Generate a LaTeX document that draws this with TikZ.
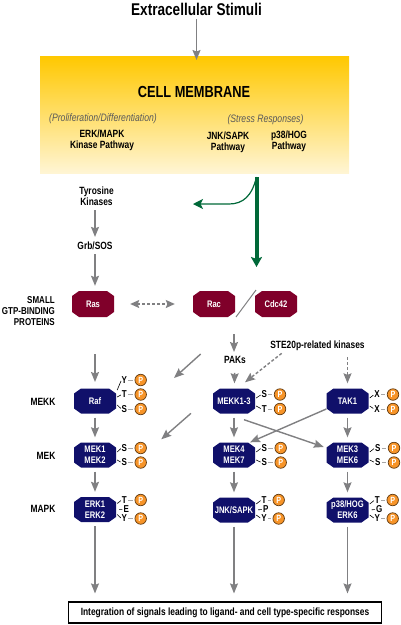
\documentclass[tikz,border=0pt]{standalone}
\usepackage{fontspec}
\setmainfont[FakeStretch=0.8]{Liberation Sans}
\usepackage[dvipsnames]{xcolor}
\usepackage{tikz}
\usetikzlibrary{arrows.meta, positioning}
\definecolor{gray1}{RGB}{128,128,130}
\definecolor{green1}{RGB}{0,104,56}
\definecolor{maroon1}{RGB}{128,0,42}
\definecolor{navy1}{RGB}{16,16,106}
\definecolor{orange1}{RGB}{247,148,40}
\definecolor{amber1}{RGB}{255,200,0}
\definecolor{amber2}{RGB}{255,245,212}
\def\BB{path picture bounding box}
% one phosphorylation site: name, box, shift at box, letter, x, y, x of P
\def\psite#1#2#3#4#5#6#7{
  \node[residue,name=#1] at(#5,#6) {#4};
  \node[phospho,name=#1p] at(#7,#6) {P};
  \draw[leader] ([xshift=1pt,yshift=#3pt]#2.east) -- (#1.west);
  \draw[tether] (#1) -- (#1p);
}
\begin{document}
\begin{tikzpicture}[x=1pt,y=-1pt,
    label1/.style={font=\fontsize{10.5}{11}\selectfont\bfseries, align=center, inner sep=0pt},
    greytext/.style={font=\fontsize{10.8}{11}\selectfont\itshape, text=black!65, inner sep=0pt},
    octbox/.style={rectangle, text=white, align=center, inner sep=0pt,
      path picture={\fill[#1] ([xshift=7pt]\BB.north west) -- ([xshift=-7pt]\BB.north east) -- ([yshift=-5pt]\BB.north east) -- ([yshift=5pt]\BB.south east) -- ([xshift=-7pt]\BB.south east) -- ([xshift=7pt]\BB.south west) -- ([yshift=5pt]\BB.south west) -- ([yshift=-5pt]\BB.north west) -- cycle;}},
    gtpase/.style={octbox=maroon1, font=\fontsize{9.5}{11}\selectfont\bfseries, minimum width=42pt, minimum height=26pt},
    kinase/.style={octbox=navy1, font=\fontsize{9.5}{11}\selectfont\bfseries, minimum width=42pt, minimum height=25pt},
    residue/.style={font=\fontsize{10}{10}\selectfont\bfseries, inner sep=0pt},
    phospho/.style={circle, draw=black!60!orange1, fill=orange1, line width=0.7pt, text=white, font=\fontsize{9}{9}\selectfont\bfseries, minimum size=11.5pt, inner sep=0pt},
    leader/.style={line width=0.6pt, color=black, shorten >=1pt},
    tether/.style={line width=0.7pt, color=gray1!70, shorten <=1pt, shorten >=2pt},
    sigarrow/.style={-{Stealth[length=10pt,width=8pt,inset=1.5pt]}, line width=1.4pt, color=gray1, shorten <=4pt, shorten >=5pt},
    dasharrow/.style={sigarrow, dash pattern=on 3pt off 2pt},
    greenarrow/.style={-{Stealth[length=10pt,width=11pt,inset=2pt]}, line width=4pt, color=green1},
    greenthin/.style={-{Stealth[length=10pt,width=10pt,inset=2.5pt]}, line width=1.2pt, color=green1}
]
        \useasboundingbox (0,0) rectangle (400,625);

        \node[rectangle, top color=amber1, bottom color=amber2, minimum width=309pt, minimum height=117pt, inner sep=0pt, name=membrane] at(194.5,114.5) { };
        \node[font=\fontsize{17}{18}\selectfont\bfseries, inner sep=0pt, name=stimuli] at(196.5,9) {Extracellular Stimuli};
        \node[font=\fontsize{16}{18}\selectfont\bfseries, inner sep=0pt, name=cell] at(194,92) {CELL MEMBRANE};

        \node[greytext, name=prolif] at(103,119) {(Proliferation/Differentiation)};
        \node[greytext, name=stress] at(265.5,120) {(Stress Responses)};
        \node[label1, name=erkpath] at(102,140) {ERK/MAPK\\Kinase Pathway};
        \node[label1, name=jnkpath] at(228,142.5) {JNK/SAPK\\Pathway};
        \node[label1, name=hogpath] at(289,141.5) {p38/HOG\\Pathway};

        \node[label1, name=tyrosine] at(96.5,196.5) {Tyrosine\\Kinases};
        \node[label1, name=grb] at(95,246) {Grb/SOS};
        \node[label1, font=\fontsize{10}{11}\selectfont\bfseries, align=right, anchor=east, name=small] at(55,311) {SMALL\\GTP-BINDING\\PROTEINS};
        \node[label1, name=mekklabel] at(43,402) {MEKK};
        \node[label1, name=meklabel] at(46,456) {MEK};
        \node[label1, name=mapklabel] at(43,509) {MAPK};
        \node[label1, name=paks] at(235,360) {PAKs};
        \node[label1, name=ste] at(317.5,346) {STE20p-related kinases};

        \node[gtpase, name=ras] at(93,304) {Ras};
        \node[gtpase, name=rac] at(214,304) {Rac};
        \node[gtpase, name=cdc] at(276,304) {Cdc42};

        \node[kinase, name=raf] at(95,401) {Raf};
        \node[kinase, name=mekk] at(234,401) {MEKK1-3};
        \node[kinase, name=tak] at(347.5,401) {TAK1};
        \node[kinase, name=mek1] at(95,455) {MEK1\\MEK2};
        \node[kinase, name=mek4] at(234,455) {MEK4\\MEK7};
        \node[kinase, name=mek3] at(347.5,455) {MEK3\\MEK6};
        \node[kinase, name=erk] at(95,509.5) {ERK1\\ERK2};
        \node[kinase, name=jnk] at(234,510) {JNK/SAPK};
        \node[kinase, name=hog] at(347.5,510) {p38/HOG\\ERK6};

        \node[draw=black, line width=1.2pt, minimum width=313pt, minimum height=21pt, inner sep=0pt, font=\fontsize{10.5}{12}\selectfont\bfseries, name=output] at(225,612.5) {Integration of signals leading to ligand- and cell type-specific responses};

        \psite{rafy}{raf}{11}{Y}{124.3}{380}{140.7}
        \psite{raft}{raf}{4}{T}{124.3}{394.5}{140.7}
        \psite{rafs}{raf}{-4}{S}{124.3}{409}{140.7}
        \psite{mekks}{mekk}{3}{S}{264.3}{394.5}{280}
        \psite{mekkt}{mekk}{-5}{T}{264.3}{409}{280}
        \psite{takx}{tak}{3}{X}{377}{394.5}{393}
        \psite{takz}{tak}{-5}{X}{377}{409}{393}
        \psite{meka}{mek1}{3}{S}{124.3}{448}{140.7}
        \psite{mekb}{mek1}{-5}{S}{124.3}{462.5}{140.7}
        \psite{mekc}{mek4}{3}{S}{264.3}{448}{280.7}
        \psite{mekd}{mek4}{-5}{S}{264.3}{462.5}{280.7}
        \psite{meke}{mek3}{3}{S}{377.7}{448}{394}
        \psite{mekf}{mek3}{-5}{S}{377.7}{462.5}{394}
        \psite{erkt}{erk}{6}{T}{124.3}{500}{140.7}
        \psite{erky}{erk}{-5}{Y}{124.3}{518.5}{140.7}
        \psite{jnkt}{jnk}{6}{T}{264}{500}{278.7}
        \psite{jnky}{jnk}{-5}{Y}{264}{518.5}{278.7}
        \psite{hogt}{hog}{6}{T}{377.3}{500}{392.7}
        \psite{hogy}{hog}{-5}{Y}{377.3}{518.5}{392.7}

        % middle residues have no P
        \node[residue, name=erke] at(126.3,509.3) {E};
        \node[residue, name=jnkp] at(265.7,509.3) {P};
        \node[residue, name=hogg] at(379.3,509.3) {G};
        \draw[leader, shorten <=3pt] (erk.east) -- (erke);
        \draw[leader, shorten <=3pt] (jnk.east) -- (jnkp);
        \draw[leader, shorten <=3pt] (hog.east) -- (hogg);

        \coordinate (stimtip) at(196.5,65);
        \coordinate (forktop) at(256.5,177);
        \coordinate (forkleft) at(193,204);
        \coordinate (forkdown) at(256.5,267);
        \coordinate (slashtop) at(256,290);
        \coordinate (slashbot) at(236,317);
        \coordinate (rasdown) at(95,350);
        \coordinate (racdown) at(234,330);
        \coordinate (racmek) at(234,357);
        \coordinate (mapa) at(200.7,354);
        \coordinate (mapb) at(174,378);
        \coordinate (mapc) at(191,413.3);
        \coordinate (mapd) at(161.3,439.3);
        \coordinate (rafin) at(95,387);
        \coordinate (steout) at(281.7,353.3);
        \coordinate (stein) at(245,382.3);

        \draw[sigarrow] (stimuli) -- (stimtip);
        \draw[greenarrow] (forktop) -- (forkdown);
        \draw[greenthin] (forktop) .. controls (252,196) and (243,204) .. (229,204) -- (forkleft);
        \draw[sigarrow] (tyrosine.south -| grb) -- (grb);
        \draw[sigarrow] (grb) -- (grb |- ras.north);
        \draw[sigarrow, {Stealth[length=9pt,width=8pt,inset=1.5pt]}-{Stealth[length=9pt,width=8pt,inset=1.5pt]}, dash pattern=on 3pt off 2pt, shorten <=16pt, shorten >=18pt] (ras) -- (rac);
        \draw[line width=1pt, color=gray1] (slashtop) -- (slashbot);

        \draw[sigarrow] (rasdown) -- (rafin);
        \draw[sigarrow] (racdown) -- (racmek);
        \draw[sigarrow, shorten >=0pt, shorten <=0pt] (mapa) -- (mapb);
        \draw[sigarrow, shorten >=0pt, shorten <=0pt] (mapc) -- (mapd);
        \draw[dasharrow, shorten <=9pt] (paks) -- (mekk);
        \draw[dasharrow, shorten <=6pt] (ste.south -| tak) -- (tak);
        \draw[dasharrow, shorten >=0pt, shorten <=0pt] (steout) -- (stein);

        \draw[sigarrow] (raf) -- (mek1);
        \draw[sigarrow] (mek1) -- (erk);
        \draw[sigarrow] (mekk) -- (mek4);
        \draw[sigarrow] (mek4) -- (jnk);
        \draw[sigarrow] (tak) -- (mek3);
        \draw[sigarrow] (mek3) -- (hog);
        \draw[sigarrow, shorten <=0pt, shorten >=0pt] ([yshift=-8pt]tak.west) -- ([xshift=16pt]mek4.north);
        \draw[sigarrow, shorten <=0pt, shorten >=0pt] ([xshift=10pt,yshift=-6pt]mekk.south) -- ([xshift=-2.5pt,yshift=8pt]mek3.west);
        \draw[sigarrow, shorten >=8pt] (erk) -- (erk |- output.north);
        \draw[sigarrow, shorten >=8pt] (jnk) -- (jnk |- output.north);
        \draw[sigarrow, shorten >=8pt] (hog) -- (hog |- output.north);
    \end{tikzpicture}
\end{document}
